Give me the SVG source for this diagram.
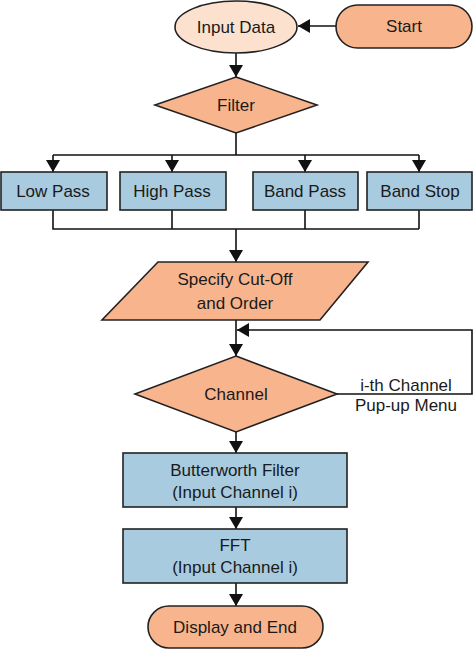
<svg xmlns="http://www.w3.org/2000/svg" width="474" height="651" viewBox="0 0 474 651">
<defs>
<marker id="ah" markerUnits="userSpaceOnUse" markerWidth="16" markerHeight="16" refX="12" refY="7" orient="auto">
<path d="M0,0 L12,7 L0,14 Z" fill="#111"/>
</marker>
<style>
.o{fill:#F8B48C;stroke:#222;stroke-width:1.6}
.p{fill:#FCE1CF;stroke:#222;stroke-width:1.6}
.b{fill:#A8CBDF;stroke:#222;stroke-width:1.6}
.t{font-family:"Liberation Sans",Arial,sans-serif;font-size:17px;fill:#1a1a1a;text-anchor:middle}
.c{fill:none;stroke:#111;stroke-width:1.6}
</style>
</defs>
<rect width="474" height="651" fill="#fff"/>
<g id="connectors">
<path class="c" d="M336,26 H298" marker-end="url(#ah)"/>
<path class="c" d="M236,53 V77" marker-end="url(#ah)"/>
<path class="c" d="M236,133 V155 M53,155 H419"/>
<path class="c" d="M53,155 V172" marker-end="url(#ah)"/>
<path class="c" d="M172,155 V172" marker-end="url(#ah)"/>
<path class="c" d="M305,155 V172" marker-end="url(#ah)"/>
<path class="c" d="M419,155 V172" marker-end="url(#ah)"/>
<path class="c" d="M53,210 V229 H419 M172,210 V229 M305,210 V229 M419,210 V229"/>
<path class="c" d="M236,229 V262" marker-end="url(#ah)"/>
<path class="c" d="M236,320 V356" marker-end="url(#ah)"/>
<path class="c" d="M337,394 H472 V330 H237" marker-end="url(#ah)"/>
<path class="c" d="M236,432 V453" marker-end="url(#ah)"/>
<path class="c" d="M236,507 V529" marker-end="url(#ah)"/>
<path class="c" d="M236,583 V606" marker-end="url(#ah)"/>
</g>
<g id="input-data">
<ellipse class="p" cx="236" cy="27" rx="61" ry="26"/>
<text class="t" x="236" y="33">Input Data</text>
</g>
<g id="start">
<rect class="o" x="336" y="5" width="136" height="43" rx="21.5"/>
<text class="t" x="404" y="32">Start</text>
</g>
<g id="filter">
<polygon class="o" points="236,77 317,105 236,133 155,105"/>
<text class="t" x="236" y="111">Filter</text>
</g>
<g id="low-pass">
<rect class="b" x="1" y="172" width="106" height="38"/>
<text class="t" x="53" y="197">Low Pass</text>
</g>
<g id="high-pass">
<rect class="b" x="120" y="172" width="106" height="38"/>
<text class="t" x="172" y="197">High Pass</text>
</g>
<g id="band-pass">
<rect class="b" x="253" y="172" width="105" height="38"/>
<text class="t" x="305" y="197">Band Pass</text>
</g>
<g id="band-stop">
<rect class="b" x="367" y="172" width="105" height="38"/>
<text class="t" x="420" y="197">Band Stop</text>
</g>
<g id="specify">
<polygon class="o" points="158,262 368,262 320,320 102,320"/>
<text class="t" x="235" y="285">Specify Cut-Off</text>
<text class="t" x="235" y="309">and Order</text>
</g>
<g id="channel">
<polygon class="o" points="236,356 337,394 236,432 135,394"/>
<text class="t" x="236" y="400">Channel</text>
</g>
<g id="menu-label">
<text class="t" x="406" y="391">i-th Channel</text>
<text class="t" x="406" y="411">Pup-up Menu</text>
</g>
<g id="butterworth">
<rect class="b" x="123" y="453" width="224" height="54"/>
<text class="t" x="235" y="476">Butterworth Filter</text>
<text class="t" x="235" y="498">(Input Channel i)</text>
</g>
<g id="fft">
<rect class="b" x="123" y="529" width="224" height="54"/>
<text class="t" x="235" y="551">FFT</text>
<text class="t" x="235" y="573">(Input Channel i)</text>
</g>
<g id="display">
<rect class="o" x="148" y="606" width="175" height="42" rx="21"/>
<text class="t" x="235" y="633">Display and End</text>
</g>
</svg>
